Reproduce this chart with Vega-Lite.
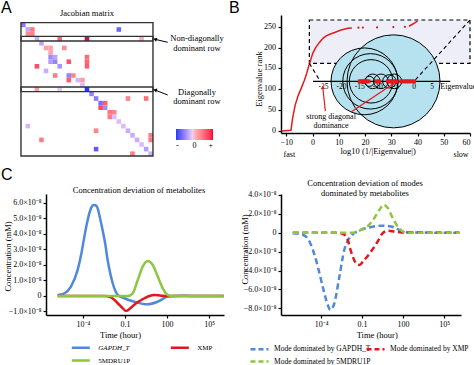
{
  "$schema": "https://vega.github.io/schema/vega-lite/v6.json",
  "background": "white",
  "padding": 0,
  "bounds": "flush",
  "columns": 2,
  "spacing": {"row": 38, "column": 55},
  "config": {
    "view": {"stroke": null},
    "font": "Liberation Serif",
    "axis": {"domainColor": "black", "domainWidth": 1.5, "tickColor": "black", "tickWidth": 1.2, "tickSize": 3, "labelFont": "Liberation Serif", "labelFontSize": 8, "labelColor": "black", "titleFont": "Liberation Serif", "titleFontSize": 8.5, "titleFontWeight": "normal", "titleColor": "black", "grid": false, "labelPadding": 2, "labelOverlap": false},
    "legend": {"labelFont": "Liberation Serif", "labelColor": "black"},
    "title": {"font": "Liberation Serif", "fontSize": 8.5, "fontWeight": "normal", "color": "black"},
    "text": {"font": "Liberation Serif", "color": "black"}
  },
  "resolve": {"scale": {"color": "independent", "size": "independent"}, "legend": {"color": "independent"}},
  "concat": [
        {
          "width": 180,
          "height": 141,
          "layer": [
            {
              "data": {"values": [
                {"c":0,"r":0,"v":-0.6},{"c":1,"r":1,"v":-0.35},{"c":2,"r":1,"v":0.45},{"c":1,"r":2,"v":0.3},{"c":2,"r":2,"v":0.35},{"c":21,"r":1,"v":-0.75},
                {"c":3,"r":3,"v":-0.3},{"c":8,"r":3,"v":0.55},{"c":14,"r":3,"v":1.0},{"c":26,"r":3,"v":0.08},
                {"c":4,"r":4,"v":-0.35},{"c":5,"r":5,"v":0.15},{"c":6,"r":5,"v":0.15},{"c":9,"r":5,"v":0.3},{"c":6,"r":6,"v":0.12},
                {"c":6,"r":7,"v":-0.5},{"c":7,"r":7,"v":-0.35},{"c":6,"r":8,"v":-0.4},{"c":7,"r":8,"v":-0.55},
                {"c":14,"r":7,"v":0.5},{"c":14,"r":8,"v":0.55},{"c":14,"r":9,"v":0.6},
                {"c":10,"r":8,"v":0.65},{"c":3,"r":9,"v":0.7},{"c":8,"r":9,"v":-0.45},{"c":5,"r":10,"v":-0.3},
                {"c":7,"r":11,"v":0.4},{"c":10,"r":11,"v":-0.55},{"c":11,"r":11,"v":0.35},{"c":10,"r":12,"v":0.6},
                {"c":12,"r":12,"v":-0.25},{"c":13,"r":12,"v":0.2},{"c":13,"r":13,"v":-0.2},
                {"c":3,"r":14,"v":0.18},{"c":8,"r":14,"v":-0.15},{"c":14,"r":14,"v":-1.0},
                {"c":15,"r":15,"v":-0.55},{"c":16,"r":16,"v":-0.6},{"c":23,"r":16,"v":0.35},{"c":27,"r":16,"v":0.5},
                {"c":17,"r":17,"v":-0.7},{"c":18,"r":17,"v":0.6},{"c":17,"r":18,"v":0.75},{"c":18,"r":18,"v":-0.5},
                {"c":19,"r":19,"v":0.45},{"c":20,"r":19,"v":0.35},{"c":19,"r":20,"v":0.4},{"c":20,"r":20,"v":-0.2},
                {"c":21,"r":21,"v":-0.2},{"c":1,"r":22,"v":-0.25},{"c":22,"r":22,"v":-0.2},{"c":23,"r":23,"v":-0.3},{"c":16,"r":23,"v":0.35},
                {"c":24,"r":24,"v":-0.3},{"c":28,"r":24,"v":0.4},{"c":28,"r":25,"v":0.45},{"c":25,"r":25,"v":-0.3},{"c":4,"r":25,"v":0.4},
                {"c":26,"r":26,"v":-0.2},{"c":16,"r":27,"v":-0.8},{"c":27,"r":27,"v":-0.4},{"c":24,"r":28,"v":0.4},{"c":28,"r":28,"v":-0.3}
              ]},
              "mark": {"type": "rect", "width": 4.55, "height": 4.6},
              "encoding": {
                "x": {"field": "c", "type": "quantitative", "scale": {"domain": [4.995, 44.55], "nice": false, "zero": false}, "axis": null},
                "y": {"field": "r", "type": "quantitative", "scale": {"domain": [-2.152, 28.5], "nice": false, "zero": false, "reverse": true}, "axis": null},
                "color": {"field": "v", "type": "quantitative", "scale": {"domain": [-1, 0, 1], "range": ["#1f3bff", "#ffffff", "#f00040"]},
                  "legend": {"title": null, "orient": "none", "legendX": 130, "legendY": 114, "direction": "horizontal", "gradientLength": 37, "gradientThickness": 11, "values": [-1, 0, 1], "labelExpr": "datum.value < 0 ? '-' : datum.value > 0 ? '+' : '0'", "labelFontSize": 8, "labelOffset": 2, "padding": 0, "gradientStrokeWidth": 0}}
              }
            },
            {
              "data": {"values": [
                {"x1": -0.5, "x2": 28.5, "y1": -0.5, "y2": 28.5},
                {"x1": -0.5, "x2": 28.5, "y1": 2.5, "y2": 3.5},
                {"x1": -0.5, "x2": 28.5, "y1": 13.5, "y2": 14.5}
              ]},
              "mark": {"type": "rect", "filled": false, "color": "#333333", "strokeWidth": 1.4},
              "encoding": {
                "x": {"field": "x1", "type": "quantitative", "scale": {"domain": [4.995, 44.55], "nice": false, "zero": false}, "axis": null},
                "x2": {"field": "x2"},
                "y": {"field": "y1", "type": "quantitative", "scale": {"domain": [-2.152, 28.5], "nice": false, "zero": false, "reverse": true}, "axis": null},
                "y2": {"field": "y2"}
              }
            },
            {
              "data": {"values": [
                {"x1": 31.74, "y1": 3.78, "x2": 28.95, "y2": 3.13},
                {"x1": 31.74, "y1": 15.24, "x2": 28.95, "y2": 14.15}
              ]},
              "mark": {"type": "rule", "color": "black", "strokeWidth": 1},
              "encoding": {
                "x": {"field": "x1", "type": "quantitative", "scale": {"domain": [4.995, 44.55], "nice": false, "zero": false}, "axis": null},
                "x2": {"field": "x2"},
                "y": {"field": "y1", "type": "quantitative", "scale": {"domain": [-2.152, 28.5], "nice": false, "zero": false, "reverse": true}, "axis": null},
                "y2": {"field": "y2"}
              }
            },
            {
              "data": {"values": [{"x": 28.95, "y": 3.13}, {"x": 28.95, "y": 14.15}]},
              "mark": {"type": "point", "shape": "triangle-left", "filled": true, "color": "black", "opacity": 1, "size": 18, "angle": 17},
              "encoding": {
                "x": {"field": "x", "type": "quantitative", "scale": {"domain": [4.995, 44.55], "nice": false, "zero": false}, "axis": null},
                "y": {"field": "y", "type": "quantitative", "scale": {"domain": [-2.152, 28.5], "nice": false, "zero": false, "reverse": true}, "axis": null}
              }
            },
            {
              "data": {"values": [
                {"x": 38.18, "y": 2.78, "t": "Non-diagonally"},
                {"x": 38.18, "y": 5.09, "t": "dominant row"},
                {"x": 38.18, "y": 14.52, "t": "Diagonally"},
                {"x": 38.18, "y": 16.54, "t": "dominant row"},
                {"x": 14.0, "y": -2.59, "t": "Jacobian matrix"}
              ]},
              "mark": {"type": "text", "fontSize": 8.5, "align": "center", "baseline": "middle"},
              "encoding": {
                "x": {"field": "x", "type": "quantitative", "scale": {"domain": [4.995, 44.55], "nice": false, "zero": false}, "axis": null},
                "y": {"field": "y", "type": "quantitative", "scale": {"domain": [-2.152, 28.5], "nice": false, "zero": false, "reverse": true}, "axis": null},
                "text": {"field": "t"}
              }
            },
            {
              "data": {"values": [{"x": -4.9, "y": -5.41, "t": "A"}, {"x": -4.9, "y": 30.9, "t": "C"}]},
              "mark": {"type": "text", "font": "Liberation Sans", "fontSize": 16, "align": "left", "baseline": "top"},
              "encoding": {
                "x": {"field": "x", "type": "quantitative", "scale": {"domain": [4.995, 44.55], "nice": false, "zero": false}, "axis": null},
                "y": {"field": "y", "type": "quantitative", "scale": {"domain": [-2.152, 28.5], "nice": false, "zero": false, "reverse": true}, "axis": null},
                "text": {"field": "t"}
              }
            }
          ]
        },
        {
          "width": 189,
          "height": 118,
          "encoding": {
            "x": {"field": "x", "type": "quantitative", "scale": {"domain": [-12, 60], "nice": false, "zero": false},
              "axis": {"orient": "bottom", "values": [-10, 0, 10, 20, 30, 40, 50, 60], "labelOverlap": false, "title": "log10 (1/|Eigenvalue|)", "titleX": 96.7, "titleY": 17, "titleBaseline": "middle"}},
            "y": {"field": "y", "type": "quantitative", "scale": {"domain": [-4.8, 278], "nice": false, "zero": false},
              "axis": {"orient": "left", "values": [0, 50, 100, 150, 200, 250], "labels": false, "title": "Eigenvalue rank", "titleX": -23, "titleY": 63.5, "titleBaseline": "middle"}}
          },
          "layer": [
            {
              "data": {"values": [{"x": -1.2, "x2": 60, "y": 162, "y2": 266}]},
              "mark": {"type": "rect", "fill": "#eeeef9", "stroke": "black", "strokeDash": [4, 3], "strokeWidth": 1.2},
              "encoding": {"x2": {"field": "x2"}, "y2": {"field": "y2"}}
            },
            {
              "data": {"values": [
                {"x": -13.9, "y": 0, "t": "0"}, {"x": -13.9, "y": 50, "t": "50"}, {"x": -13.9, "y": 100, "t": "100"},
                {"x": -13.9, "y": 150, "t": "150"}, {"x": -13.9, "y": 200, "t": "200"}, {"x": -13.9, "y": 250, "t": "250"}
              ]},
              "mark": {"type": "text", "fontSize": 8, "align": "right", "baseline": "middle"},
              "encoding": {"text": {"field": "t"}}
            },
            {
              "data": {"values": [
                {"s":"a","x":-11.8,"y":0},{"s":"a","x":-8.2,"y":1.5},{"s":"a","x":-7.6,"y":30},{"s":"a","x":-6.6,"y":62},{"s":"a","x":-5.4,"y":86},{"s":"a","x":-4.2,"y":104},{"s":"a","x":-3.2,"y":120},{"s":"a","x":-2.4,"y":134},{"s":"a","x":-1.6,"y":152},{"s":"a","x":-0.8,"y":168},{"s":"a","x":0.1,"y":186},{"s":"a","x":1.2,"y":200},{"s":"a","x":2.7,"y":213},{"s":"a","x":4,"y":222},{"s":"a","x":5.2,"y":228},{"s":"a","x":6.6,"y":232},{"s":"a","x":8.4,"y":236},{"s":"a","x":10.9,"y":242},{"s":"a","x":13.5,"y":246},{"s":"a","x":15,"y":247},
                {"s":"b","x":36.8,"y":251},{"s":"b","x":37.6,"y":254},{"s":"b","x":38.5,"y":257.5},{"s":"b","x":39.4,"y":261},{"s":"b","x":40,"y":264}
              ]},
              "mark": {"type": "line", "color": "#e41a1c", "strokeWidth": 1.5},
              "encoding": {"detail": {"field": "s"}}
            },
            {
              "data": {"values": [{"x":17.5,"y":247.5},{"x":19.2,"y":248},{"x":24.6,"y":248.3},{"x":30.8,"y":249},{"x":35.2,"y":249.8}]},
              "mark": {"type": "point", "filled": true, "color": "#e41a1c", "opacity": 1, "size": 5},
              "encoding": {}
            },
            {
              "data": {"values": [
                {"x":30.86,"y":119,"r":17.72},{"x":19.78,"y":119,"r":12.73},{"x":22.07,"y":119,"r":10.55},{"x":22.29,"y":119,"r":8.27},
                {"x":21.64,"y":119,"r":1.9},{"x":22.94,"y":119,"r":2.79},{"x":26.09,"y":119,"r":2.79},{"x":29.27,"y":119,"r":2.55},{"x":31.17,"y":119,"r":2.79}
              ]},
              "mark": {"type": "point", "shape": "circle", "filled": true, "color": "#b5e2ee", "opacity": 1, "strokeWidth": 0},
              "encoding": {
                "size": {"field": "r", "type": "quantitative", "scale": {"type": "pow", "exponent": 2, "domain": [0, 20], "range": [0, 11025]}, "legend": null}
              }
            },
            {
              "data": {"values": [
                {"x":30.86,"y":119,"r":17.72},{"x":19.78,"y":119,"r":12.73},{"x":22.07,"y":119,"r":10.55},{"x":22.29,"y":119,"r":8.27},
                {"x":21.64,"y":119,"r":1.9},{"x":22.94,"y":119,"r":2.79},{"x":26.09,"y":119,"r":2.79},{"x":29.27,"y":119,"r":2.55},{"x":31.17,"y":119,"r":2.79}
              ]},
              "mark": {"type": "point", "shape": "circle", "filled": false, "color": "black", "opacity": 1, "strokeWidth": 1},
              "encoding": {
                "size": {"field": "r", "type": "quantitative", "scale": {"type": "pow", "exponent": 2, "domain": [0, 20], "range": [0, 11025]}, "legend": null}
              }
            },
            {
              "data": {"values": [
                {"x": -1.18, "y": 162, "x2": 2.95, "y2": 119},
                {"x": 60, "y": 266, "x2": 38.67, "y2": 119}
              ]},
              "mark": {"type": "rule", "strokeDash": [4, 3], "color": "black", "strokeWidth": 1.1},
              "encoding": {"x2": {"field": "x2"}, "y2": {"field": "y2"}}
            },
            {
              "data": {"values": [{"x": 0.2, "x2": 52.46, "y": 119}]},
              "mark": {"type": "rule", "color": "black", "strokeWidth": 1.3},
              "encoding": {"x2": {"field": "x2"}}
            },
            {
              "data": {"values": [
                {"x": 4.2, "y": 105.4, "t": "-25"}, {"x": 11.09, "y": 105.4, "t": "-20"}, {"x": 17.99, "y": 105.4, "t": "-15"},
                {"x": 24.88, "y": 105.4, "t": "-10"}, {"x": 31.78, "y": 105.4, "t": "-5"}, {"x": 38.67, "y": 105.4, "t": "0"}, {"x": 45.57, "y": 105.4, "t": "5"}
              ]},
              "mark": {"type": "text", "fontSize": 7.5, "align": "center", "baseline": "middle"},
              "encoding": {"text": {"field": "t"}}
            },
            {
              "data": {"values": [{"x": 48.68, "y": 105.4, "t": "Eigenvalue"}]},
              "mark": {"type": "text", "fontSize": 8, "align": "left", "baseline": "middle"},
              "encoding": {"text": {"field": "t"}}
            },
            {
              "data": {"values": [
                {"x":17.99,"y":119},{"x":18.81,"y":119},{"x":19.64,"y":119},{"x":20.47,"y":119},{"x":21.3,"y":119},
                {"x":24.33,"y":119},{"x":25.43,"y":119},{"x":28.74,"y":119},{"x":29.57,"y":119},{"x":30.4,"y":119},{"x":31.22,"y":119},{"x":32.05,"y":119},
                {"x":33.84,"y":119},{"x":34.81,"y":119},{"x":35.77,"y":119},{"x":36.74,"y":119},{"x":37.7,"y":119},{"x":38.67,"y":119}
              ]},
              "mark": {"type": "point", "shape": "square", "filled": true, "color": "#e41a1c", "opacity": 1, "size": 16},
              "encoding": {}
            },
            {
              "data": {"values": [
                {"x": 4.89, "y": 47.9, "x2": 3.92, "y2": 104.7},
                {"x": 14.68, "y": 45.5, "x2": 30.67, "y2": 112.6}
              ]},
              "mark": {"type": "rule", "color": "#e41a1c", "strokeWidth": 1.2},
              "encoding": {"x2": {"field": "x2"}, "y2": {"field": "y2"}}
            },
            {
              "data": {"values": [{"x": 3.92, "y": 104.7}]},
              "mark": {"type": "point", "shape": "triangle-up", "filled": true, "color": "#e41a1c", "opacity": 1, "size": 16, "angle": 354},
              "encoding": {}
            },
            {
              "data": {"values": [{"x": 30.67, "y": 112.6}]},
              "mark": {"type": "point", "shape": "triangle-up", "filled": true, "color": "#e41a1c", "opacity": 1, "size": 16, "angle": 56},
              "encoding": {}
            },
            {
              "data": {"values": [{"x": 7.09, "y": 33.5, "t": "strong diagonal"}, {"x": 7.09, "y": 12, "t": "dominance"}, {"x": -8.8, "y": -57.5, "t": "fast"}, {"x": 56.6, "y": -57.5, "t": "slow"}]},
              "mark": {"type": "text", "fontSize": 8, "align": "center", "baseline": "middle"},
              "encoding": {"text": {"field": "t"}}
            },
            {
              "data": {"values": [{"x": -31.8, "y": 313.9, "t": "B"}]},
              "mark": {"type": "text", "font": "Liberation Sans", "fontSize": 16, "align": "left", "baseline": "top"},
              "encoding": {"text": {"field": "t"}}
            }
          ]
        },
        {
          "width": 178,
          "height": 121,
          "title": {"text": "Concentration deviation of metabolites", "offset": 0, "dx": 4},
          "data": {"values": [
            {"s":"GAPDH_T","t":1.55e-6,"v":6e-10},{"s":"GAPDH_T","t":4.68e-6,"v":1.7e-9},{"s":"GAPDH_T","t":1.38e-5,"v":6e-9},{"s":"GAPDH_T","t":4.17e-5,"v":1.68e-8},{"s":"GAPDH_T","t":7.94e-5,"v":2.8e-8},{"s":"GAPDH_T","t":1.26e-4,"v":3.83e-8},{"s":"GAPDH_T","t":2.0e-4,"v":4.75e-8},{"s":"GAPDH_T","t":2.82e-4,"v":5.33e-8},{"s":"GAPDH_T","t":3.98e-4,"v":5.72e-8},{"s":"GAPDH_T","t":5.75e-4,"v":5.87e-8},{"s":"GAPDH_T","t":7.94e-4,"v":5.85e-8},{"s":"GAPDH_T","t":1.12e-3,"v":5.65e-8},{"s":"GAPDH_T","t":1.58e-3,"v":5.1e-8},{"s":"GAPDH_T","t":2.51e-3,"v":4.26e-8},{"s":"GAPDH_T","t":3.98e-3,"v":3.3e-8},{"s":"GAPDH_T","t":5.75e-3,"v":2.32e-8},{"s":"GAPDH_T","t":8.91e-3,"v":1.45e-8},{"s":"GAPDH_T","t":0.0132,"v":8.2e-9},{"s":"GAPDH_T","t":0.02,"v":3.5e-9},{"s":"GAPDH_T","t":0.0302,"v":6e-10},{"s":"GAPDH_T","t":0.0891,"v":-1.5e-9},{"s":"GAPDH_T","t":0.468,"v":-3.7e-9},{"s":"GAPDH_T","t":4.17,"v":-5.4e-9},{"s":"GAPDH_T","t":21.9,"v":-3.7e-9},{"s":"GAPDH_T","t":112,"v":-4e-10},{"s":"GAPDH_T","t":1000,"v":2e-10},{"s":"GAPDH_T","t":5130,"v":0},{"s":"GAPDH_T","t":1.12e6,"v":0},
            {"s":"XMP","t":1.55e-6,"v":0},{"s":"XMP","t":3.31e-3,"v":0},{"s":"XMP","t":0.01,"v":-9e-10},{"s":"XMP","t":0.0302,"v":-4.7e-9},{"s":"XMP","t":0.0676,"v":-7.9e-9},{"s":"XMP","t":0.117,"v":-9.7e-9},{"s":"XMP","t":0.24,"v":-8e-9},{"s":"XMP","t":0.617,"v":-4.7e-9},{"s":"XMP","t":1.82,"v":-2.1e-9},{"s":"XMP","t":5.5,"v":0},{"s":"XMP","t":12.3,"v":6e-10},{"s":"XMP","t":37.2,"v":2e-10},{"s":"XMP","t":195,"v":0},{"s":"XMP","t":1.12e6,"v":0},
            {"s":"5MDRU1P","t":1.55e-6,"v":0},{"s":"5MDRU1P","t":0.158,"v":0},{"s":"5MDRU1P","t":0.355,"v":1.7e-9},{"s":"5MDRU1P","t":0.813,"v":1.03e-8},{"s":"5MDRU1P","t":1.82,"v":1.89e-8},{"s":"5MDRU1P","t":4.17,"v":2.26e-8},{"s":"5MDRU1P","t":9.55,"v":2.0e-8},{"s":"5MDRU1P","t":21.9,"v":1.25e-8},{"s":"5MDRU1P","t":49,"v":5e-9},{"s":"5MDRU1P","t":112,"v":6e-10},{"s":"5MDRU1P","t":251,"v":0},{"s":"5MDRU1P","t":1.12e6,"v":0}
          ]},
          "mark": {"type": "line", "strokeWidth": 2.5, "interpolate": "monotone"},
          "encoding": {
            "x": {"field": "t", "type": "quantitative", "scale": {"type": "log", "domain": [2.29e-7, 1.17e6], "nice": false},
              "axis": {"values": [0.0001, 0.1, 100, 100000], "labelExpr": "datum.value < 0.001 ? '10⁻⁴' : datum.value > 1000 ? '10⁵' : datum.value < 1 ? '0.1' : '100'", "title": "Time (hour)", "titleX": 74, "titleY": 19, "titleBaseline": "middle"}},
            "y": {"field": "v", "type": "quantitative", "scale": {"domain": [-1.23e-8, 6.58e-8], "nice": false, "zero": false},
              "axis": {"values": [-1e-8, 0, 1e-8, 2e-8, 3e-8, 4e-8, 5e-8, 6e-8], "labelExpr": "datum.value == 0 ? '0' : format(datum.value * 1e8, '.1f') + '×10⁻⁸'", "title": "Concentration (mM)", "titleX": -39, "titleY": 62, "titleBaseline": "middle"}},
            "color": {"field": "s", "type": "nominal", "scale": {"domain": ["GAPDH_T", "XMP", "5MDRU1P"], "range": ["#4f88dc", "#e5161b", "#8dc63f"]},
              "legend": {"title": null, "orient": "none", "legendX": 30.3, "legendY": 149, "direction": "horizontal", "columns": 2, "symbolType": "M-3,0H3", "symbolSize": 36, "symbolStrokeWidth": 2.5, "labelFontSize": 7, "labelOffset": 13, "columnPadding": 35, "rowPadding": 2, "padding": 0,
                "encode": {"labels": {"update": {"fontStyle": {"signal": "datum.label == 'GAPDH_T' ? 'italic' : 'normal'"}}}}}}
          }
        },
        {
          "width": 180,
          "height": 121,
          "title": {"text": ["Concentration deviation of modes", "dominated by metabolites"], "offset": -7, "dx": -6, "lineHeight": 10},
          "data": {"values": [
            {"s":"Mode dominated by GAPDH_T","t":8.51e-7,"v":-4e-10},{"s":"Mode dominated by GAPDH_T","t":4.57e-6,"v":-2.1e-9},{"s":"Mode dominated by GAPDH_T","t":1.41e-5,"v":-9.2e-9},{"s":"Mode dominated by GAPDH_T","t":4.27e-5,"v":-2.87e-8},{"s":"Mode dominated by GAPDH_T","t":1.32e-4,"v":-5.7e-8},{"s":"Mode dominated by GAPDH_T","t":3.09e-4,"v":-7.64e-8},{"s":"Mode dominated by GAPDH_T","t":4.79e-4,"v":-8.17e-8},{"s":"Mode dominated by GAPDH_T","t":9.33e-4,"v":-7.47e-8},{"s":"Mode dominated by GAPDH_T","t":2.19e-3,"v":-4.64e-8},{"s":"Mode dominated by GAPDH_T","t":5.01e-3,"v":-1.8e-8},{"s":"Mode dominated by GAPDH_T","t":0.0117,"v":-5.7e-9},{"s":"Mode dominated by GAPDH_T","t":0.0275,"v":-4e-10},{"s":"Mode dominated by GAPDH_T","t":0.0851,"v":3.2e-9},{"s":"Mode dominated by GAPDH_T","t":0.339,"v":5.6e-9},{"s":"Mode dominated by GAPDH_T","t":2.45,"v":7.4e-9},{"s":"Mode dominated by GAPDH_T","t":13.2,"v":6.7e-9},{"s":"Mode dominated by GAPDH_T","t":40.7,"v":3.9e-9},{"s":"Mode dominated by GAPDH_T","t":123,"v":7e-10},{"s":"Mode dominated by GAPDH_T","t":676,"v":3e-10},{"s":"Mode dominated by GAPDH_T","t":1.32e6,"v":0},
            {"s":"Mode dominated by XMP","t":8.51e-7,"v":0},{"s":"Mode dominated by XMP","t":1.66e-3,"v":0},{"s":"Mode dominated by XMP","t":5.01e-3,"v":-2.1e-9},{"s":"Mode dominated by XMP","t":8.91e-3,"v":-7.4e-9},{"s":"Mode dominated by XMP","t":0.0155,"v":-1.98e-8},{"s":"Mode dominated by XMP","t":0.0363,"v":-3.22e-8},{"s":"Mode dominated by XMP","t":0.0631,"v":-3.4e-8},{"s":"Mode dominated by XMP","t":0.148,"v":-2.87e-8},{"s":"Mode dominated by XMP","t":0.457,"v":-1.98e-8},{"s":"Mode dominated by XMP","t":1.41,"v":-9.2e-9},{"s":"Mode dominated by XMP","t":3.24,"v":-4e-10},{"s":"Mode dominated by XMP","t":7.59,"v":2.1e-9},{"s":"Mode dominated by XMP","t":22.9,"v":1.4e-9},{"s":"Mode dominated by XMP","t":123,"v":3e-10},{"s":"Mode dominated by XMP","t":1.32e6,"v":0},
            {"s":"Mode dominated by 5MDRU1P","t":8.51e-7,"v":0},{"s":"Mode dominated by 5MDRU1P","t":0.0275,"v":0},{"s":"Mode dominated by 5MDRU1P","t":0.0851,"v":3.2e-9},{"s":"Mode dominated by 5MDRU1P","t":0.339,"v":8.5e-9},{"s":"Mode dominated by 5MDRU1P","t":0.794,"v":1.56e-8},{"s":"Mode dominated by 5MDRU1P","t":1.86,"v":2.44e-8},{"s":"Mode dominated by 5MDRU1P","t":3.89,"v":2.97e-8},{"s":"Mode dominated by 5MDRU1P","t":7.59,"v":2.62e-8},{"s":"Mode dominated by 5MDRU1P","t":17.4,"v":1.56e-8},{"s":"Mode dominated by 5MDRU1P","t":40.7,"v":6.7e-9},{"s":"Mode dominated by 5MDRU1P","t":95.5,"v":1.4e-9},{"s":"Mode dominated by 5MDRU1P","t":219,"v":0},{"s":"Mode dominated by 5MDRU1P","t":1.32e6,"v":0}
          ]},
          "mark": {"type": "line", "strokeWidth": 2.5, "interpolate": "monotone", "strokeDash": [6, 3.5]},
          "encoding": {
            "x": {"field": "t", "type": "quantitative", "scale": {"type": "log", "domain": [1.17e-7, 1.74e6], "nice": false},
              "axis": {"values": [0.0001, 0.1, 100, 100000], "labelExpr": "datum.value < 0.001 ? '10⁻⁴' : datum.value > 1000 ? '10⁵' : datum.value < 1 ? '0.1' : '100'", "title": "Time (hour)", "titleX": 95.7, "titleY": 19, "titleBaseline": "middle"}},
            "y": {"field": "v", "type": "quantitative", "scale": {"domain": [-8.7e-8, 4.1e-8], "nice": false, "zero": false},
              "axis": {"values": [-8e-8, -6e-8, -4e-8, -2e-8, 0, 2e-8, 4e-8], "labelExpr": "datum.value == 0 ? '0' : format(datum.value * 1e8, '.1f') + '×10⁻⁸'", "title": "Concentration (mM)", "titleX": -37, "titleY": 55, "titleBaseline": "middle"}},
            "color": {"field": "s", "type": "nominal", "scale": {"domain": ["Mode dominated by GAPDH_T", "Mode dominated by XMP", "Mode dominated by 5MDRU1P"], "range": ["#4f88dc", "#e5161b", "#8dc63f"]},
              "legend": {"title": null, "orient": "none", "legendX": -26, "legendY": 150.5, "direction": "horizontal", "columns": 2, "symbolType": "M-3,0H3", "symbolSize": 36, "symbolStrokeWidth": 2.5, "symbolDash": [5, 3], "labelFontSize": 7.5, "labelOffset": 10, "columnPadding": -24, "rowPadding": 1.5, "padding": 0, "labelLimit": 300}}
          }
        }
  ]
}
